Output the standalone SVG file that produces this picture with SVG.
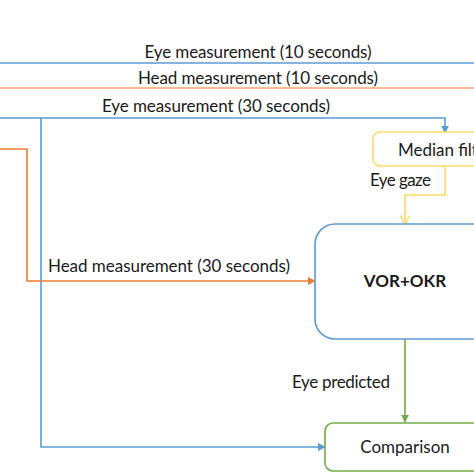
<svg xmlns="http://www.w3.org/2000/svg" width="474" height="474" viewBox="0 0 474 474">
<style>
text{font-family:Lato,"Open Sans","Liberation Sans",sans-serif;font-size:17px;fill:#1a1a1a}
.c{fill:none;stroke-width:1.6}
.b{stroke:#5B9BD5}.o{stroke:#ED7D31}.y{stroke:#FFD966}.g{stroke:#70AD47}
</style>
<defs>
<marker id="ab" viewBox="0 0 10 10" refX="9" refY="5" markerWidth="5" markerHeight="5" orient="auto"><path d="M0,0L10,5L0,10z" fill="#5B9BD5"/></marker>
<marker id="ao" viewBox="0 0 10 10" refX="9" refY="5" markerWidth="5" markerHeight="5" orient="auto"><path d="M0,0L10,5L0,10z" fill="#ED7D31"/></marker>
<marker id="ay" viewBox="0 0 10 10" refX="9" refY="5" markerWidth="6" markerHeight="6" orient="auto"><path d="M0,0L10,5L0,10" fill="none" stroke="#FFD966" stroke-width="1.5"/></marker>
<marker id="ag" viewBox="0 0 10 10" refX="9" refY="5" markerWidth="5" markerHeight="5" orient="auto"><path d="M0,0L10,5L0,10z" fill="#70AD47"/></marker>
</defs>
<g id="connectors">
<path class="c b" d="M0,63H474"/>
<path class="c o" d="M0,88H474" stroke-opacity="0.7"/>
<path class="c b" d="M0,118H445V133" marker-end="url(#ab)"/>
<path class="c b" d="M41,118V447H325" marker-end="url(#ab)"/>
<path class="c o" d="M0,149H27V281H315" marker-end="url(#ao)"/>
<path class="c y" d="M445,166V195H405V224" marker-end="url(#ay)"/>
<path class="c g" d="M405,339V422" marker-end="url(#ag)"/>
<text x="258" y="58" text-anchor="middle" textLength="227">Eye measurement (10 seconds)</text>
<text x="258" y="84" text-anchor="middle" textLength="240">Head measurement (10 seconds)</text>
<text x="216" y="112" text-anchor="middle" textLength="228">Eye measurement (30 seconds)</text>
<text x="48" y="272" textLength="242">Head measurement (30 seconds)</text>
<text x="370" y="186" textLength="61">Eye gaze</text>
<text x="292" y="388" textLength="98">Eye predicted</text>
</g>
<g id="median">
<rect x="373" y="132" width="130" height="34" rx="7" fill="#fff" stroke="#FFD966" stroke-width="1.6"/>
<text x="398" y="156" textLength="95">Median filter</text>
</g>
<g id="vorokr">
<rect x="315" y="224" width="190" height="115" rx="20" fill="#fff" stroke="#5B9BD5" stroke-width="1.6"/>
<text x="405" y="287" text-anchor="middle" font-weight="bold">VOR+OKR</text>
</g>
<g id="comparison">
<rect x="325" y="423" width="170" height="48" rx="8" fill="#fff" stroke="#70AD47" stroke-width="1.6"/>
<text x="405" y="453" text-anchor="middle">Comparison</text>
</g>
</svg>
